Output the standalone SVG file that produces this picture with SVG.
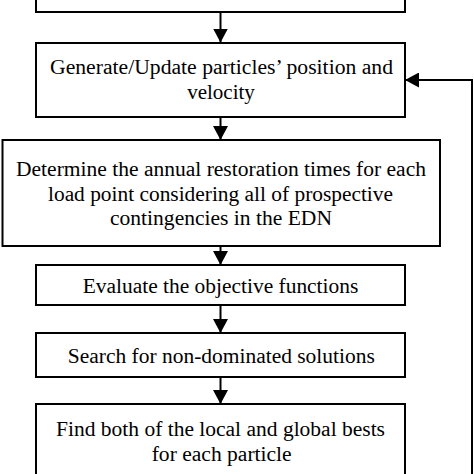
<svg xmlns="http://www.w3.org/2000/svg" width="474" height="474" viewBox="0 0 474 474">
<style>
.box{fill:#fff;stroke:#000;stroke-width:2}
.t{font-family:"Liberation Serif","Times New Roman",serif;font-size:20px;fill:#000;text-anchor:middle}
.c{fill:none;stroke:#000;stroke-width:2}
</style>
<defs>
<marker id="ah" markerUnits="userSpaceOnUse" markerWidth="14" markerHeight="15" refX="14" refY="7.5" orient="auto">
<path d="M0,0 L14,7.5 L0,15 z" fill="#000"/>
</marker>
</defs>
<rect width="474" height="474" fill="#fff"/>
<g id="connectors">
<line class="c" x1="220.5" y1="12" x2="220.5" y2="42.5" marker-end="url(#ah)"/>
<line class="c" x1="220.5" y1="117" x2="220.5" y2="140" marker-end="url(#ah)"/>
<line class="c" x1="220.5" y1="246" x2="220.5" y2="265" marker-end="url(#ah)"/>
<line class="c" x1="220.5" y1="305" x2="220.5" y2="333" marker-end="url(#ah)"/>
<line class="c" x1="220.5" y1="377" x2="220.5" y2="404" marker-end="url(#ah)"/>
<polyline class="c" points="472,476 472,80 405,80" marker-end="url(#ah)"/>
</g>
<g id="node-top">
<rect class="box" x="36" y="-10" width="369" height="22"/>
</g>
<g id="node-generate">
<rect class="box" x="36" y="43" width="369" height="74"/>
<text class="t" x="221.5" y="74.3" textLength="343" lengthAdjust="spacingAndGlyphs">Generate/Update particles’ position and</text>
<text class="t" x="221" y="98.5" textLength="67.7" lengthAdjust="spacingAndGlyphs">velocity</text>
</g>
<g id="node-determine">
<rect class="box" x="2.5" y="140" width="437.5" height="106"/>
<text class="t" x="221" y="176" textLength="410" lengthAdjust="spacingAndGlyphs">Determine the annual restoration times for each</text>
<text class="t" x="220.5" y="200.5" textLength="345" lengthAdjust="spacingAndGlyphs">load point considering all of prospective</text>
<text class="t" x="221" y="225" textLength="222" lengthAdjust="spacingAndGlyphs">contingencies in the EDN</text>
</g>
<g id="node-evaluate">
<rect class="box" x="36" y="265" width="369" height="40"/>
<text class="t" x="220.5" y="293.3" textLength="275.7" lengthAdjust="spacingAndGlyphs">Evaluate the objective functions</text>
</g>
<g id="node-search">
<rect class="box" x="36" y="333" width="369" height="44"/>
<text class="t" x="221.3" y="362.7" textLength="307" lengthAdjust="spacingAndGlyphs">Search for non-dominated solutions</text>
</g>
<g id="node-find">
<rect class="box" x="36" y="404" width="369" height="80"/>
<text class="t" x="220.5" y="435.5" textLength="329" lengthAdjust="spacingAndGlyphs">Find both of the local and global bests</text>
<text class="t" x="221.7" y="460.5" textLength="140" lengthAdjust="spacingAndGlyphs">for each particle</text>
</g>
</svg>
